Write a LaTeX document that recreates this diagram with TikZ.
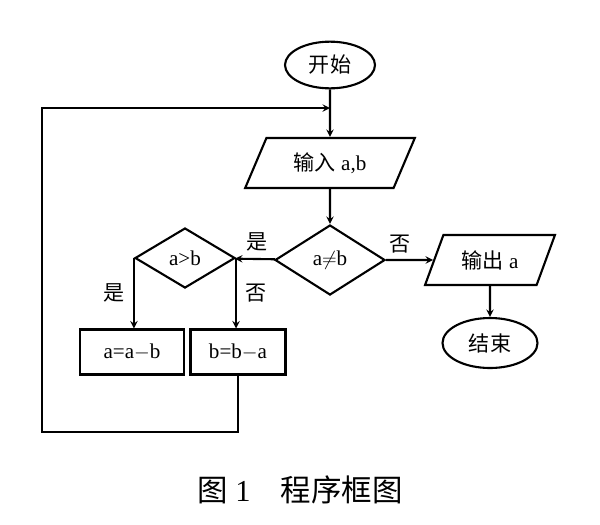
\documentclass[tikz,border=0pt]{standalone}
\usepackage{fontspec}
\setmainfont{Liberation Serif}
\newfontfamily\cjk{Noto Sans CJK SC}
\usetikzlibrary{shapes.geometric, arrows, calc, positioning}
\tikzstyle{io} = [trapezium, line width=1.8pt, trapezium left angle=65, trapezium right angle=115, trapezium stretches=true, minimum width=5.1cm, minimum height=1.5cm, text centered, draw=black]
\tikzstyle{term} = [ellipse, line width=1.8pt, minimum width=2.7cm, minimum height=1.4cm, draw=black]
\tikzstyle{decision} = [diamond, line width=1.8pt, aspect=1.6, inner sep=1pt, draw=black]
\tikzstyle{block} = [rectangle, line width=1.8pt, minimum width=3.1cm, minimum height=1.35cm, text centered, draw=black]
\tikzstyle{arrow} = [line width=1.8pt,->,>=stealth]
\begin{document}
\begin{tikzpicture}[x=0.03cm, y=-0.03cm, font=\fontsize{18}{21}\selectfont]
	\useasboundingbox (0,0) rectangle (600,524);
	\node (Start) [term] at (330,65) {\cjk 开始};
	\node (Input) [io] at (330,163) {{\cjk 输入} a,b};
	\node (Check) [decision, minimum width=3.3cm, minimum height=2.1cm] at (330,260) {a$\neq$b};
	\node (Output) [io, minimum width=3.9cm] at (490,260) {{\cjk 输出} a};
	\node (End) [term, minimum width=2.85cm, minimum height=1.5cm] at (490,343) {\cjk 结束};
	\node (Compare) [decision, minimum width=3cm, minimum height=1.8cm] at (185,258) {a>b};
	\node (SubA) [block] at (132,352) {a=a$-$b};
	\node (SubB) [block, minimum width=2.85cm] at (238,352) {b=b$-$a};
	\coordinate (LoopIn) at (330,108);
	\coordinate (LoopDown) at (SubB.south |- 0,432);
	\coordinate (LoopLeft) at (42,432);
	\draw [arrow] (Start) -- (Input);
	\draw [arrow] (Input) -- (Check);
	\draw [arrow] (Check) -- node[above=2pt, pos=0.3] {\cjk 否} (Output);
	\draw [arrow] (Output) -- (End);
	\draw [arrow] (Check) -- node[above=2pt, pos=0.45] {\cjk 是} (Compare);
	\draw [arrow] (Compare.west) -- node[left=4pt] {\cjk 是} (Compare.west |- SubA.north);
	\draw [arrow] (Compare.east) -- node[right=4pt] {\cjk 否} (Compare.east |- SubB.north);
	\draw [arrow] (SubB.south) -- (LoopDown) -- (LoopLeft) |- (LoopIn);
	\node (Caption) at (300,490) {\fontsize{26}{30}\selectfont{\cjk 图} 1\quad{\cjk 程序框图}};
\end{tikzpicture}
\end{document}
